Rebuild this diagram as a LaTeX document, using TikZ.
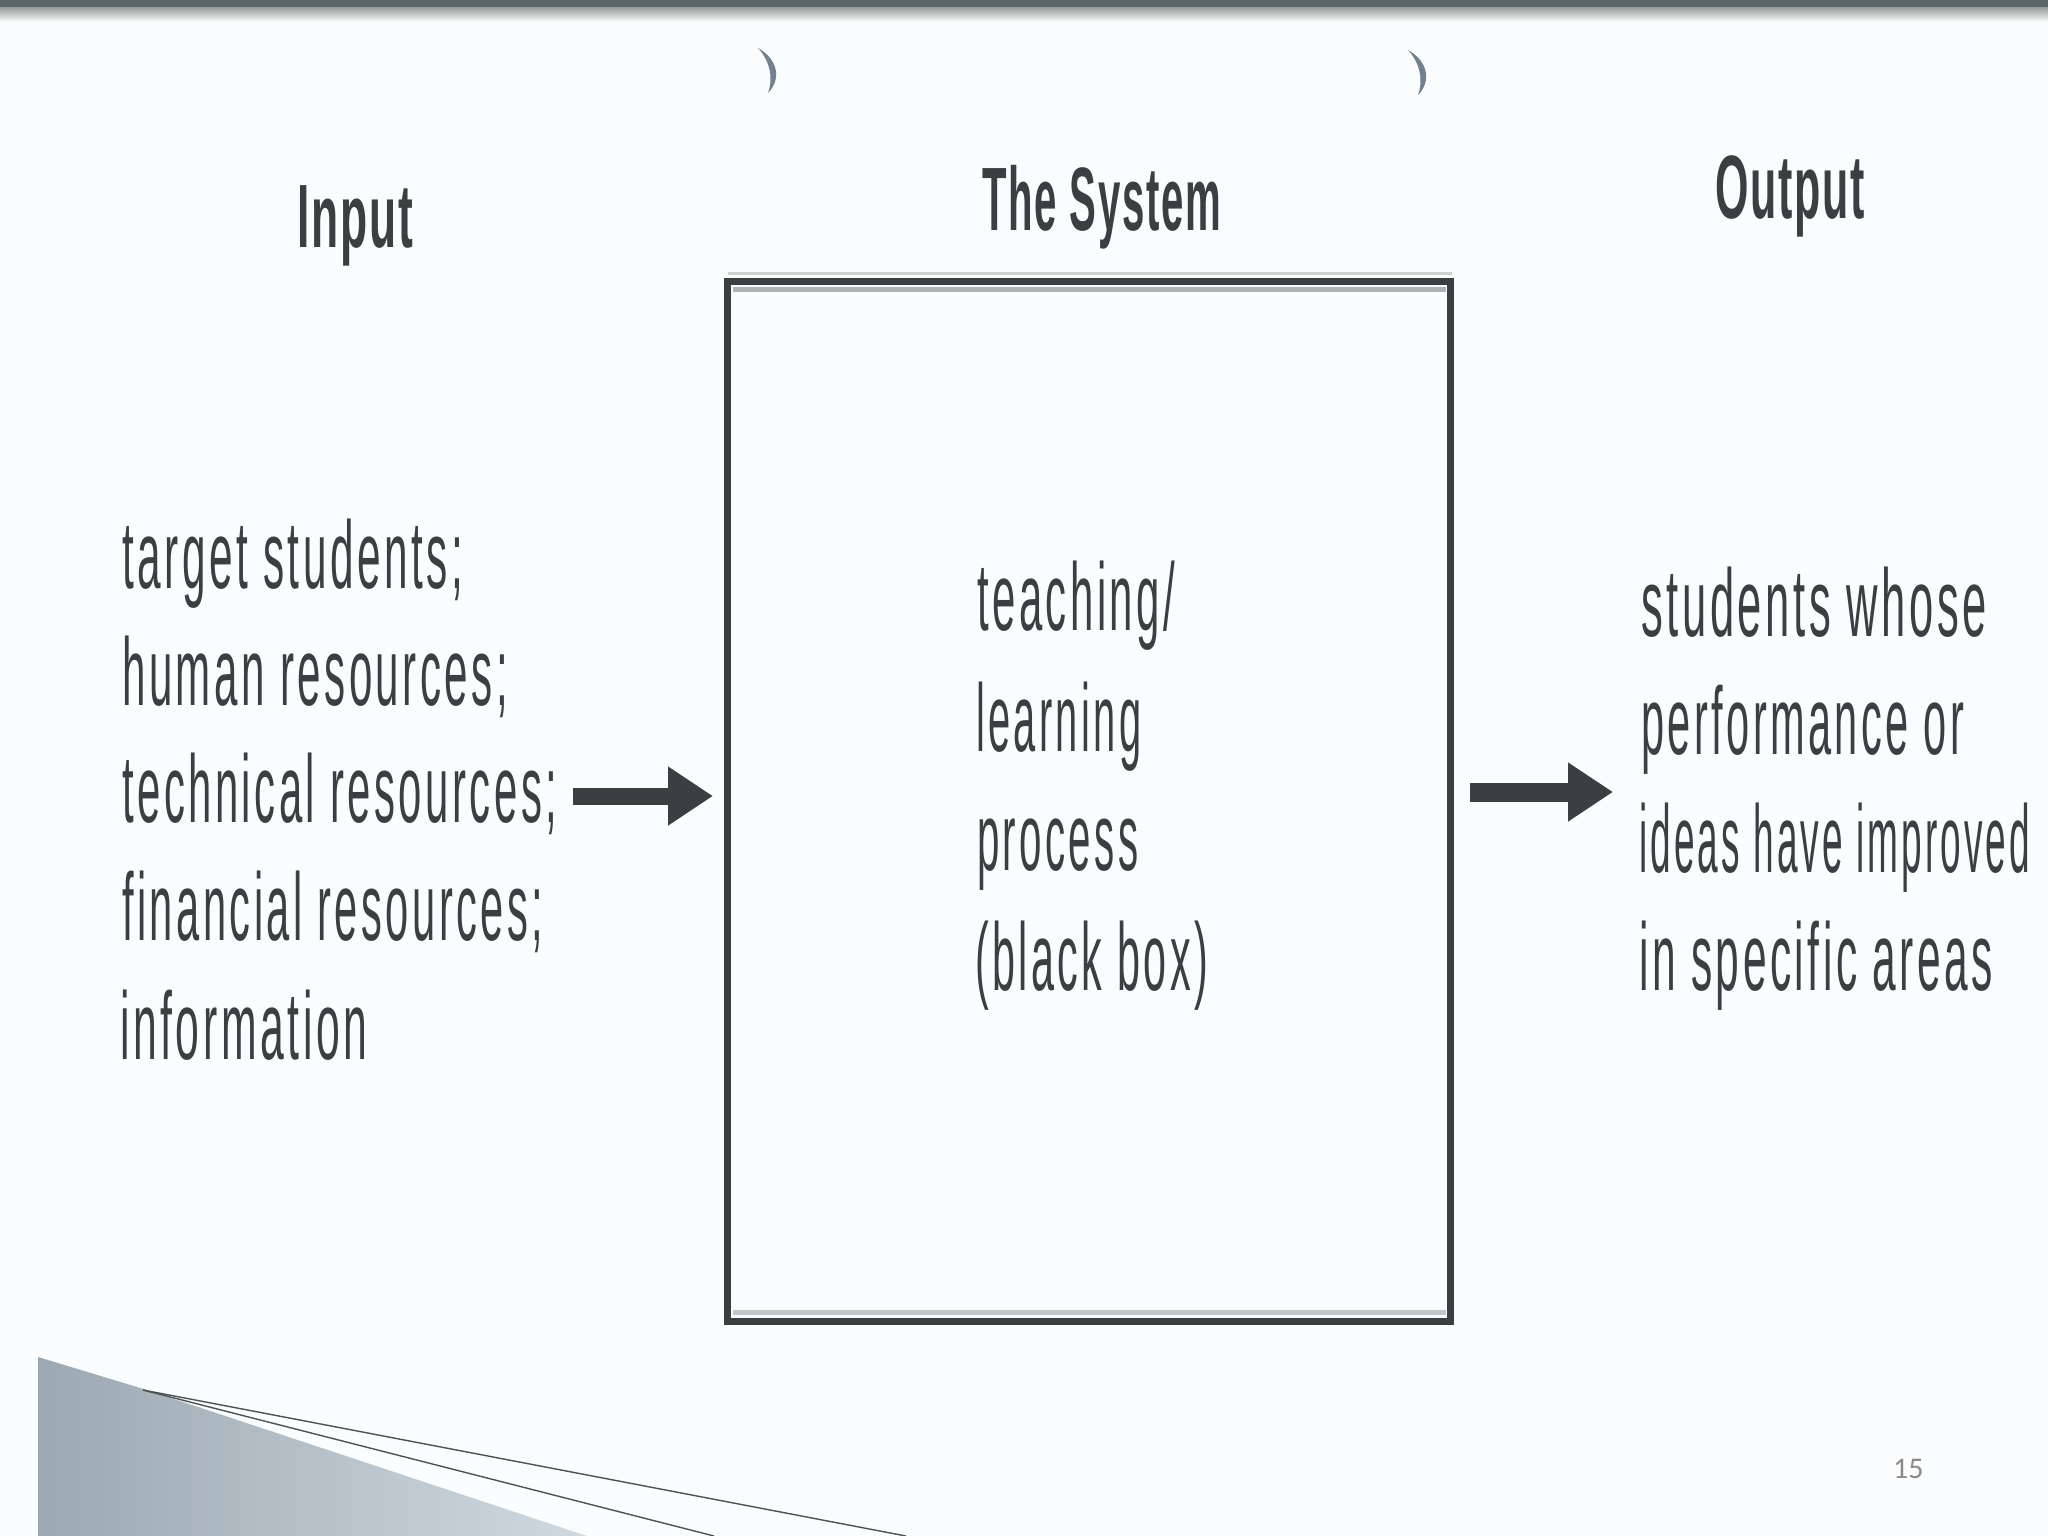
\documentclass[tikz,border=0pt]{standalone}
\usepackage{fontspec}
\usepackage{graphicx}
\setmainfont{Liberation Sans}
\newfontfamily\bodyfont[FakeStretch=0.6, LetterSpace=5]{Liberation Sans}
\newfontfamily\titlefont[FakeStretch=0.7, LetterSpace=3]{Liberation Sans}
\newfontfamily\numfont{Carlito}
\usetikzlibrary{arrows.meta}
\newlength\fitlen
\newcommand\fitto[2]{\settowidth{\fitlen}{#2}\pgfmathsetmacro\fitfac{#1/\the\fitlen}\scalebox{\fitfac}[1]{#2}}
\definecolor{ink}{HTML}{3A3F40}
\definecolor{barc}{HTML}{5B6563}
\definecolor{paper}{HTML}{FBFCFD}
\definecolor{markc}{HTML}{71818F}
\definecolor{shadeL}{HTML}{9CA8B2}
\definecolor{shadeR}{HTML}{D0D9E0}
\definecolor{pgc}{HTML}{8A8A8A}
\tikzset{
  body/.style={font=\bodyfont\fontsize{96}{117}\selectfont, text=ink, inner sep=0pt, anchor=base west},
  title/.style={font=\titlefont\bfseries\fontsize{90}{110}\selectfont, text=ink, inner sep=0pt, anchor=base west},
  sysbox/.style={draw=ink, line width=7pt, inner sep=0pt, minimum width=723pt, minimum height=1040pt},
  band/.style={line width=5pt, draw=ink!40},
  thickarrow/.style={draw=ink, -{Triangle[length=45pt,width=56pt]}},
  fanline/.style={draw=ink!90, line width=1.4pt},
  crescent/.style={fill=markc}
}
\begin{document}
\begin{tikzpicture}[x=1pt,y=-1pt]
\useasboundingbox (0,0) rectangle (2048,1536);
\fill[paper] (0,0) rectangle (2048,1536);
% top bar
\fill[barc] (0,0) rectangle (2048,8);
\shade[top color=barc!60, bottom color=paper] (0,8) rectangle (2048,22);
% small marks
\fill[crescent] (758,48) .. controls (779,60) and (781,80) .. (768,93) .. controls (773,80) and (771,62) .. (758,48) -- cycle;
\fill[crescent] (1408,50) .. controls (1429,62) and (1431,82) .. (1418,95) .. controls (1423,82) and (1421,64) .. (1408,50) -- cycle;
% titles
\node[title] (tin) at (297,247) {\fitto{116}{Input}};
\node[title] (tsys) at (982,230) {\fitto{239}{The System}};
\node[title] (tout) at (1715,218) {\fitto{150}{Output}};
% system box
\node[sysbox] (sys) at (1089,801.5) {};
\draw[band, draw=ink!25, line width=3pt] (728,273) -- (1452,273);
\draw[band] (733,289) -- (1446,289);
\draw[band, draw=ink!30] (733,1312) -- (1446,1312);
% input text
\node[body] (in1) at (122,588) {\fitto{341}{target students;}};
\node[body] (in2) at (122,705) {\fitto{386}{human resources;}};
\node[body] (in3) at (122,822) {\fitto{435}{technical resources;}};
\node[body] (in4) at (122,940) {\fitto{421}{financial resources;}};
\node[body] (in5) at (120,1059) {\fitto{247}{information}};
% system text
\node[body] (s1) at (977,630) {\fitto{198}{teaching/}};
\node[body] (s2) at (976,751) {\fitto{165}{learning}};
\node[body] (s3) at (977,870) {\fitto{161}{process}};
\node[body] (s4) at (975,990) {\fitto{233}{(black box)}};
% output text
\node[body] (o1) at (1641,636) {\fitto{346}{students whose}};
\node[body] (o2) at (1641,754) {\fitto{323}{performance or}};
\node[body] (o3) at (1639,872) {\fitto{391}{ideas have improved}};
\node[body] (o4) at (1639,990) {\fitto{354}{in specific areas}};
% arrows
\coordinate (la) at (573,796);
\coordinate (lb) at (713,796);
\coordinate (ra) at (1470,792);
\coordinate (rb) at (1613,792);
\draw[thickarrow, line width=17pt] (la) -- (lb);
\draw[thickarrow, line width=19pt] (ra) -- (rb);
% bottom-left decoration
\shade[left color=shadeL, right color=shadeR] (38,1357) -- (147,1390) -- (587,1536) -- (38,1536) -- cycle;
\coordinate (fan) at (143,1390);
\coordinate (fanA) at (906,1536);
\coordinate (fanB) at (714,1536);
\draw[fanline] (fan) -- (fanA);
\draw[fanline] (fan) -- (fanB);
% page number
\node[font=\numfont\fontsize{30}{36}\selectfont, text=pgc, inner sep=0pt, anchor=base west] (pg) at (1893,1478) {15};
\end{tikzpicture}
\end{document}
